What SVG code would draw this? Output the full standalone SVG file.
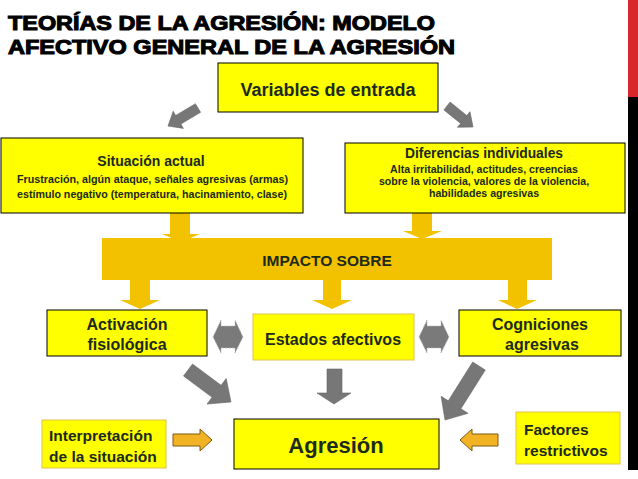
<svg xmlns="http://www.w3.org/2000/svg" width="638" height="479" viewBox="0 0 638 479">
<style>
.t{font-family:"Liberation Sans",Arial,sans-serif;font-weight:bold;fill:#1c2a1c}
.title{font-family:"Liberation Sans",Arial,sans-serif;font-weight:bold;fill:#000;stroke:#000;stroke-width:1.1;font-size:21px}
.box{fill:#ffff00;stroke:#000;stroke-width:1}
.boxg{fill:#ffff00;stroke:#e3c24a;stroke-width:1}
.gold{fill:#f2c200}
.gray{fill:#777;stroke:#666;stroke-width:0.6}
.dbl{fill:#7a7a7a;stroke:#bbb;stroke-width:0.8;stroke-dasharray:2 1.5}
.org{fill:#f1b323;stroke:#7a5a10;stroke-width:1}
</style>
<rect width="638" height="479" fill="#fff"/>
<rect x="628" y="0" width="10" height="97" fill="#d8262c"/>
<rect x="628" y="97" width="10" height="373" fill="#000"/>
<text class="title" x="8" y="30" textLength="427" lengthAdjust="spacingAndGlyphs">TEORÍAS DE LA AGRESIÓN: MODELO</text>
<text class="title" x="8" y="54" textLength="447" lengthAdjust="spacingAndGlyphs">AFECTIVO GENERAL DE LA AGRESIÓN</text>

<g id="connectors">
<polygon class="gray" points="195.4,103.7 175.7,115.5 173.2,111.2 168,126 183.4,128.4 180.9,124.1 200.6,112.3"/>
<polygon class="gray" points="450.1,102.1 466.8,115.6 470,111.7 473,127 457.4,127.3 460.6,123.4 443.9,109.9"/>
<polygon class="gold" points="170,213 190,213 190,234 200,234 181,242 162,234 170,234"/>
<polygon class="gold" points="412,213 432,213 432,231 442,231 422,239 403,231 412,231"/>
<polygon class="gold" points="130,279 150,279 150,300 160,300 140,309 120,300 130,300"/>
<polygon class="gold" points="323,279 341,279 341,300 352,300 332,309 312,300 323,300"/>
<polygon class="gold" points="508,279 527,279 527,300 537,300 517,309 498,300 508,300"/>
<polygon class="dbl" points="213,337 221,320 221,326 235,326 235,320 243,337 235,353 235,348 221,348 221,353"/>
<polygon class="dbl" points="419,337 427,320 427,326 441,326 441,320 449,337 441,353 441,348 427,348 427,353"/>
<polygon class="gray" points="192.5,364 221.1,385.3 226.2,378.5 231,402 207,404.1 212.1,397.3 183.5,376"/>
<polygon class="gray" points="327,369 342,369 342,393 351,393 334,404 317,393 327,393"/>
<polygon class="gray" points="485.3,370 460.9,408.8 468.1,413.3 445,420 441.1,396.3 448.3,400.8 472.7,362"/>
<polygon class="org" points="173,434 200,434 200,429 212,440 200,451 200,446 173,446"/>
<polygon class="org" points="498,434 472,434 472,429 460,440 472,451 472,446 498,446"/>
</g>

<g id="variables">
<rect class="box" x="218" y="63" width="220" height="49"/>
<text class="t" x="328" y="96" font-size="18" text-anchor="middle">Variables de entrada</text>
</g>
<g id="situacion">
<rect class="box" x="1" y="138" width="302" height="75"/>
<text class="t" x="151" y="166" font-size="14" text-anchor="middle">Situación actual</text>
<text class="t" x="17" y="183" font-size="10.5" textLength="271" lengthAdjust="spacingAndGlyphs">Frustración, algún ataque,  señales agresivas (armas)</text>
<text class="t" x="17" y="198" font-size="10.5" textLength="270" lengthAdjust="spacingAndGlyphs">estímulo  negativo (temperatura, hacinamiento, clase)</text>
</g>
<g id="diferencias">
<rect class="box" x="345" y="143" width="280" height="70"/>
<text class="t" x="484" y="158" font-size="13.8" text-anchor="middle">Diferencias individuales</text>
<text class="t" x="484" y="173" font-size="10.6" text-anchor="middle">Alta irritabilidad, actitudes, creencias</text>
<text class="t" x="484" y="185" font-size="10.6" text-anchor="middle">sobre la violencia,  valores de la violencia,</text>
<text class="t" x="484" y="197" font-size="10.6" text-anchor="middle">habilidades agresivas</text>
</g>
<g id="impacto">
<rect class="gold" x="102" y="238" width="450" height="42"/>
<text class="t" x="327" y="266" font-size="15.5" text-anchor="middle" fill="#111">IMPACTO SOBRE</text>
</g>
<g id="activacion">
<rect class="box" x="47" y="310" width="160" height="46"/>
<text class="t" x="127" y="330" font-size="16" text-anchor="middle">Activación</text>
<text class="t" x="127" y="350" font-size="16" text-anchor="middle">fisiológica</text>
</g>
<g id="estados">
<rect class="boxg" x="253" y="314" width="161" height="46"/>
<text class="t" x="333" y="345" font-size="16" text-anchor="middle">Estados afectivos</text>
</g>
<g id="cogniciones">
<rect class="box" x="459" y="310" width="162" height="46"/>
<text class="t" x="540" y="330" font-size="16" text-anchor="middle">Cogniciones</text>
<text class="t" x="542" y="350" font-size="16" text-anchor="middle">agresivas</text>
</g>
<g id="interpretacion">
<rect class="boxg" x="42" y="420" width="124" height="48"/>
<text class="t" x="49" y="441" font-size="15.5">Interpretación</text>
<text class="t" x="49" y="462" font-size="15.5">de la situación</text>
</g>
<g id="agresion">
<rect class="box" x="234" y="419" width="205" height="50"/>
<text class="t" x="336" y="453" font-size="22" text-anchor="middle">Agresión</text>
</g>
<g id="factores">
<rect class="boxg" x="516" y="412" width="104" height="52"/>
<text class="t" x="524" y="435" font-size="15.5">Factores</text>
<text class="t" x="524" y="456" font-size="15.5">restrictivos</text>
</g>
</svg>
